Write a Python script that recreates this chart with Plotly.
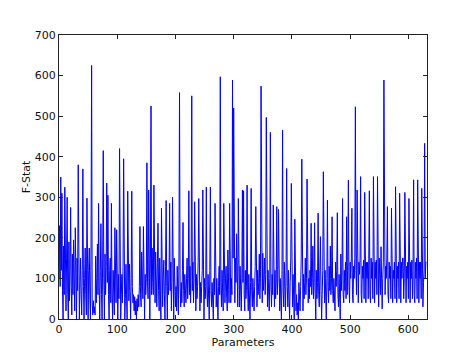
import plotly.graph_objects as go

# F-Stat value per parameter index
row00 = [100,230,80,350,120,310,70,0,180,60,325,90,20,150,300,60,0,190,45,120]
row01 = [275,80,10,160,60,195,90,20,225,60,0,150,70,380,100,0,90,150,60,10]
row02 = [120,370,80,0,100,175,60,10,298,90,0,120,175,60,0,180,625,40,10,45]
row03 = [15,30,10,155,40,100,185,60,285,80,0,120,235,60,0,150,415,100,0,160]
row04 = [60,130,335,90,305,60,0,120,150,40,285,70,0,120,60,10,225,70,40,220]
row05 = [60,0,110,50,420,100,0,60,110,40,130,395,80,0,50,135,60,0,315,90]
row06 = [45,135,50,0,100,315,80,40,60,20,55,10,45,0,50,20,60,30,80,228]
row07 = [60,30,165,70,50,228,80,0,110,60,100,385,90,50,318,80,0,150,525,60]
row08 = [175,90,60,330,100,40,165,80,30,140,236,70,20,150,80,0,273,90,30,100]
row09 = [145,60,0,130,292,80,0,120,60,100,285,70,140,20,90,300,60,0,150,80]
row10 = [30,80,20,130,60,10,150,558,80,30,90,40,120,238,70,30,110,60,40,100]
row11 = [150,50,100,316,60,130,40,140,550,70,140,40,100,289,60,20,110,50,80,140]
row12 = [297,60,20,90,40,80,120,318,60,0,100,50,80,325,70,30,110,40,0,120]
row13 = [325,70,30,90,50,0,100,60,285,80,30,100,50,0,80,130,60,597,90,30]
row14 = [120,60,20,285,70,40,100,130,50,20,170,80,40,285,90,40,100,60,589,150]
row15 = [520,80,40,150,90,210,70,30,297,80,30,130,60,20,100,318,90,316,60,20]
row16 = [120,50,80,330,70,20,110,50,0,90,322,70,30,100,60,20,80,130,277,60]
row17 = [30,120,60,90,160,50,100,574,80,40,162,70,100,150,60,110,497,80,30,120]
row18 = [60,20,100,460,80,30,110,60,281,70,30,120,50,90,277,60,100,270,60,20]
row19 = [100,50,0,120,466,70,30,140,60,20,120,371,80,30,120,60,0,90,150,334]
row20 = [80,30,110,50,0,246,70,20,60,10,40,0,90,60,20,80,150,394,60,20]
row21 = [110,50,90,150,60,100,345,70,40,100,50,120,80,236,60,100,180,50,90,237]
row22 = [60,0,120,50,90,261,60,30,120,203,70,0,60,120,363,80,40,120,60,0]
row23 = [100,293,80,40,130,70,180,60,100,252,70,40,100,60,20,140,80,120,262,60]
row24 = [30,110,60,0,160,70,120,297,60,40,120,70,140,50,252,60,140,342,80,40]
row25 = [140,100,150,273,60,40,130,100,150,523,120,60,318,100,40,140,110,150,351,60]
row26 = [40,130,100,145,50,312,60,40,140,100,140,50,150,316,60,40,150,100,140,50]
row27 = [351,60,40,140,100,145,60,351,50,30,150,110,60,178,40,25,100,140,589,110]
row28 = [60,130,100,150,277,60,40,140,100,130,50,273,60,40,120,100,140,50,326,60]
row29 = [40,130,100,140,50,310,60,40,140,100,150,150,50,100,312,60,40,130,100,140]
row30 = [50,297,60,40,140,100,145,50,120,343,60,40,140,100,150,50,343,60,40,140]
row31 = [100,140,50,322,60,30,90,120,433,100,140,140]

f_stat = (row00 + row01 + row02 + row03 + row04 + row05 + row06 + row07 + row08
          + row09 + row10 + row11 + row12 + row13 + row14 + row15 + row16 + row17
          + row18 + row19 + row20 + row21 + row22 + row23 + row24 + row25 + row26
          + row27 + row28 + row29 + row30 + row31)
params = list(range(len(f_stat)))

x_ticks = [0, 100, 200, 300, 400, 500, 600]
y_ticks = [0, 100, 200, 300, 400, 500, 600, 700]

fig = go.Figure()
fig.add_trace(go.Scatter(x=params, y=f_stat, mode="lines",
                         line=dict(color="#0000ff", width=1)))

axis_common = dict(showgrid=False, zeroline=False, showline=True,
                   linecolor="#222222", linewidth=1, mirror="ticks",
                   ticks="inside", ticklen=4, tickcolor="#222222",
                   tickfont=dict(family="DejaVu Sans", size=11, color="#111111"),
                   automargin=False)

fig.update_layout(
    width=474, height=355,
    margin=dict(l=59, r=47, t=35, b=36),
    paper_bgcolor="white", plot_bgcolor="white",
    showlegend=False,
    font=dict(family="DejaVu Sans", size=11, color="#111111"),
    xaxis=dict(range=[0, 632], tickvals=x_ticks,
               title=dict(text="Parameters", standoff=3,
                          font=dict(family="DejaVu Sans", size=11)),
               **axis_common),
    yaxis=dict(range=[0, 700], tickvals=y_ticks,
               title=dict(text="F-Stat", standoff=1,
                          font=dict(family="DejaVu Sans", size=11)),
               **axis_common),
)

fig.write_html("out.html")
